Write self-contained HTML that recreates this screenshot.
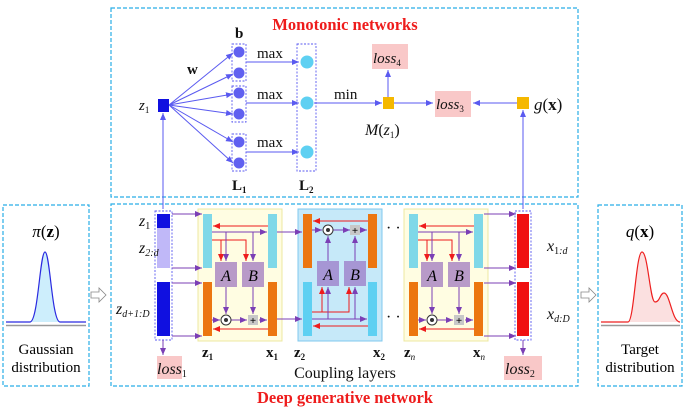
<!DOCTYPE html>
<html><head><meta charset="utf-8"><style>
html,body{margin:0;padding:0;background:#fff;}
svg{display:block;font-family:"Liberation Serif",serif;}
</style></head><body>
<svg width="685" height="408" viewBox="0 0 685 408" xmlns="http://www.w3.org/2000/svg">
<defs>
<marker id="ap" markerWidth="8" markerHeight="8" refX="7" refY="3" orient="auto" markerUnits="userSpaceOnUse"><path d="M0,0 L7,3 L0,6 z" fill="#7b3fb5"/></marker>
<marker id="ar" markerWidth="8" markerHeight="8" refX="7" refY="3" orient="auto" markerUnits="userSpaceOnUse"><path d="M0,0 L7,3 L0,6 z" fill="#ee1c1c"/></marker>
<marker id="ab" markerWidth="8" markerHeight="8" refX="7" refY="3" orient="auto" markerUnits="userSpaceOnUse"><path d="M0,0 L7,3 L0,6 z" fill="#5a5af0"/></marker>
</defs>
<g fill="none" stroke="#29aee6" stroke-width="1.2" stroke-dasharray="4,2">
<rect x="111" y="8" width="467" height="189"/>
<rect x="111" y="204" width="467" height="182"/>
<rect x="3" y="205" width="86" height="181"/>
<rect x="598" y="205" width="84" height="181"/>
</g>
<text x="345" y="30" fill="#ee1c1c" font-weight="bold" font-size="16.5" text-anchor="middle">Monotonic networks</text>
<text x="345" y="403" fill="#ee1c1c" font-weight="bold" font-size="16.5" text-anchor="middle">Deep generative network</text>

<!-- monotonic network -->
<g stroke="#5a5af0" stroke-width="1" marker-end="url(#ab)">
<line x1="169" y1="105" x2="233" y2="53"/><line x1="169" y1="105" x2="233" y2="74"/>
<line x1="169" y1="105" x2="233" y2="94"/><line x1="169" y1="105" x2="233" y2="114"/>
<line x1="169" y1="105" x2="233" y2="142"/><line x1="169" y1="105" x2="233" y2="163"/>
<line x1="246" y1="62" x2="299" y2="62"/><line x1="246" y1="103" x2="299" y2="103"/><line x1="246" y1="152" x2="299" y2="152"/>
<line x1="314" y1="103" x2="382" y2="103"/>
<line x1="388" y1="97" x2="388" y2="70"/>
<line x1="394" y1="103" x2="433" y2="103"/>
<line x1="517" y1="103" x2="473" y2="103"/>
<line x1="163" y1="209" x2="163" y2="113"/>
<line x1="523" y1="209" x2="523" y2="110"/>
</g>
<g stroke="#5a5af0" stroke-dasharray="2,1.5" fill="none" stroke-width="0.9">
<rect x="232" y="44" width="14" height="37"/><rect x="232" y="86" width="14" height="36"/><rect x="232" y="134" width="14" height="37"/>
<rect x="297" y="44" width="19" height="127"/>
</g>
<g fill="#6060f0">
<circle cx="239" cy="52" r="5.5"/><circle cx="239" cy="73" r="5.5"/><circle cx="239" cy="93" r="5.5"/><circle cx="239" cy="114" r="5.5"/><circle cx="239" cy="142" r="5.5"/><circle cx="239" cy="163" r="5.5"/>
</g>
<g fill="#5ed0f2"><circle cx="307" cy="62" r="6.5"/><circle cx="307" cy="103" r="6.5"/><circle cx="307" cy="152" r="6.5"/></g>
<rect x="158" y="99" width="11" height="13" fill="#1010e0"/>
<rect x="383" y="97" width="11" height="12" fill="#f5b800"/>
<rect x="517" y="97" width="12" height="12" fill="#f5b800"/>
<rect x="372" y="44" width="36" height="25" fill="#f9c8c8"/>
<rect x="435" y="91" width="36" height="26" fill="#f9c8c8"/>
<g font-size="15" fill="#111">
<text x="139" y="110" font-style="italic">z<tspan font-size="9" dy="3" font-style="normal">1</tspan></text>
<text x="235" y="38" font-weight="bold">b</text>
<text x="187" y="74" font-weight="bold">w</text>
<text x="257" y="58">max</text><text x="257" y="99">max</text><text x="257" y="147">max</text>
<text x="334" y="99">min</text>
<text x="373" y="63" font-style="italic">loss<tspan font-size="9" dy="3" font-style="normal">4</tspan></text>
<text x="436" y="109" font-style="italic">loss<tspan font-size="9" dy="3" font-style="normal">3</tspan></text>
<text x="365" y="135" font-size="16"><tspan font-style="italic">M</tspan>(<tspan font-style="italic">z</tspan><tspan font-size="9" dy="3">1</tspan><tspan dy="-3">)</tspan></text>
<text x="534" y="110" font-size="17"><tspan font-style="italic">g</tspan>(<tspan font-weight="bold">x</tspan>)</text>
<text x="232" y="190" font-weight="bold">L<tspan font-size="9" dy="3">1</tspan></text>
<text x="299" y="190" font-weight="bold">L<tspan font-size="9" dy="3">2</tspan></text>
</g>

<!-- left panel -->
<text x="46" y="237" font-size="17" text-anchor="middle"><tspan font-style="italic">π</tspan>(<tspan font-weight="bold">z</tspan>)</text>
<path d="M6,322 L30,322 C38,322 40,252 45,252 C50,252 52,322 60,322 L86,322 Z" fill="#cdeefc"/>
<path d="M6,322 L30,322 C38,322 40,252 45,252 C50,252 52,322 60,322 L86,322" fill="none" stroke="#2a2ae0" stroke-width="1.2"/>
<line x1="6" y1="325.5" x2="86" y2="325.5" stroke="#999" stroke-width="1.5"/>
<text x="46" y="354" font-size="15" text-anchor="middle">Gaussian</text>
<text x="46" y="372" font-size="15" text-anchor="middle">distribution</text>
<path d="M91,292 L99,292 L99,288 L106,295 L99,302 L99,298 L91,298 Z" fill="#fff" stroke="#888" stroke-width="0.8"/>
<!-- right panel -->
<text x="640" y="237" font-size="17" text-anchor="middle"><tspan font-style="italic">q</tspan>(<tspan font-weight="bold">x</tspan>)</text>
<path d="M601,322 L628,322 C634,322 636,252 642,252 C648,252 650,302 655,302 C660,302 660,293 664,293 C670,293 672,322 680,322 Z" fill="#fbe0e0"/>
<path d="M601,322 L628,322 C634,322 636,252 642,252 C648,252 650,302 655,302 C660,302 660,293 664,293 C670,293 672,322 680,322" fill="none" stroke="#ee2020" stroke-width="1.2"/>
<line x1="601" y1="325.5" x2="680" y2="325.5" stroke="#999" stroke-width="1.5"/>
<text x="640" y="354" font-size="15" text-anchor="middle">Target</text>
<text x="640" y="372" font-size="15" text-anchor="middle">distribution</text>
<path d="M581,292 L589,292 L589,288 L596,295 L589,302 L589,298 L581,298 Z" fill="#fff" stroke="#888" stroke-width="0.8"/>

<!-- input stack -->
<rect x="157" y="214" width="13" height="14" fill="#1010e0"/>
<rect x="157" y="228" width="13" height="40" fill="#c0b8f8"/>
<rect x="157" y="282" width="13" height="54" fill="#1010e0"/>
<rect x="155" y="211" width="17" height="129" fill="none" stroke="#5a5af0" stroke-dasharray="2,1.5" stroke-width="0.9"/>
<rect x="517" y="214" width="12" height="54" fill="#f01010"/>
<rect x="517" y="282" width="12" height="54" fill="#f01010"/>
<rect x="515" y="211" width="16" height="129" fill="none" stroke="#5a5af0" stroke-dasharray="2,1.5" stroke-width="0.9"/>
<rect x="157" y="356" width="25" height="23" fill="#f9c8c8"/>
<rect x="504" y="356" width="38" height="24" fill="#f9c8c8"/>
<g font-size="16" fill="#111">
<text x="139" y="226" font-style="italic">z<tspan font-size="10" dy="3" font-style="normal">1</tspan></text>
<text x="139" y="253" font-style="italic">z<tspan font-size="10" dy="3">2:d</tspan></text>
<text x="116" y="314" font-style="italic">z<tspan font-size="10" dy="3">d+1:D</tspan></text>
<text x="547" y="251" font-style="italic">x<tspan font-size="10" dy="3"><tspan font-style="normal">1</tspan>:d</tspan></text>
<text x="547" y="319" font-style="italic">x<tspan font-size="10" dy="3">d:D</tspan></text>
<text x="157" y="374" font-style="italic">loss<tspan font-size="10" dy="3" font-style="normal">1</tspan></text>
<text x="505" y="374" font-style="italic">loss<tspan font-size="10" dy="3" font-style="normal">2</tspan></text>
<text x="345" y="378" text-anchor="middle" font-size="16">Coupling layers</text>
<g font-weight="bold" font-size="15">
<text x="202" y="357">z<tspan font-size="9" dy="3">1</tspan></text>
<text x="266" y="357">x<tspan font-size="9" dy="3">1</tspan></text>
<text x="294" y="357">z<tspan font-size="9" dy="3">2</tspan></text>
<text x="373" y="357">x<tspan font-size="9" dy="3">2</tspan></text>
<text x="404" y="357">z<tspan font-size="9" dy="3" font-style="italic" font-weight="normal">n</tspan></text>
<text x="473" y="357">x<tspan font-size="9" dy="3" font-style="italic" font-weight="normal">n</tspan></text>
</g>
<text x="386" y="233">· · ·</text><text x="386" y="322">· · ·</text>
</g>
<line x1="163" y1="340" x2="163" y2="355" stroke="#7b3fb5" marker-end="url(#ap)"/>
<line x1="523" y1="340" x2="523" y2="355" stroke="#7b3fb5" marker-end="url(#ap)"/>

<!-- layer 1 and n -->
<g id="L1">
<rect x="198" y="209" width="84" height="132" fill="#fffde2" stroke="#ece8a0"/>
<rect x="203" y="214" width="9" height="54" fill="#7fd8e8"/>
<rect x="268" y="214" width="9" height="54" fill="#7fd8e8"/>
<rect x="203" y="282" width="9" height="54" fill="#ec7610"/>
<rect x="268" y="282" width="9" height="54" fill="#ec7610"/>
<rect x="215" y="262" width="22" height="25" fill="#b89ac8"/>
<rect x="242" y="262" width="22" height="25" fill="#b89ac8"/>
<text x="226" y="281" font-size="16" font-style="italic" text-anchor="middle">A</text>
<text x="253" y="281" font-size="16" font-style="italic" text-anchor="middle">B</text>
<g stroke="#ee1c1c" fill="none">
<line x1="268" y1="226" x2="213" y2="226" marker-end="url(#ar)"/>
<polyline points="212,240 221,240 221,261" marker-end="url(#ar)"/>
<polyline points="221,240 246,240 246,261" marker-end="url(#ar)"/>
<line x1="268" y1="329" x2="213" y2="329" marker-end="url(#ar)"/>
</g>
<g stroke="#7b3fb5" fill="none">
<line x1="212" y1="232" x2="267" y2="232" marker-end="url(#ap)"/>
<line x1="226" y1="232" x2="226" y2="261" marker-end="url(#ap)"/>
<line x1="253" y1="232" x2="253" y2="261" marker-end="url(#ap)"/>
<line x1="226" y1="287" x2="226" y2="314" marker-end="url(#ap)"/>
<line x1="253" y1="287" x2="253" y2="314" marker-end="url(#ap)"/>
<line x1="212" y1="320" x2="220" y2="320" marker-end="url(#ap)"/>
<line x1="231" y1="320" x2="247" y2="320" marker-end="url(#ap)"/>
<line x1="259" y1="320" x2="267" y2="320" marker-end="url(#ap)"/>
</g>
<circle cx="226" cy="320" r="5" fill="#fff" stroke="#333"/><circle cx="226" cy="320" r="2" fill="#333"/>
<rect x="248" y="315" width="10" height="10" fill="#c8c8c8"/>
<text x="253" y="324" font-size="11" text-anchor="middle" font-weight="bold">+</text>
</g>
<use href="#L1" x="206" y="0"/>

<!-- layer 2 -->
<rect x="298" y="209" width="84" height="132" fill="#c6e9f9" stroke="#80c8ee"/>
<rect x="303" y="214" width="9" height="54" fill="#ec7610"/>
<rect x="368" y="214" width="9" height="54" fill="#ec7610"/>
<rect x="303" y="282" width="9" height="54" fill="#5ed0f2"/>
<rect x="368" y="282" width="9" height="54" fill="#5ed0f2"/>
<rect x="317" y="261" width="22" height="25" fill="#a696d4"/>
<rect x="344" y="261" width="22" height="25" fill="#a696d4"/>
<text x="328" y="280" font-size="16" font-style="italic" text-anchor="middle">A</text>
<text x="355" y="280" font-size="16" font-style="italic" text-anchor="middle">B</text>
<g stroke="#ee1c1c" fill="none">
<line x1="368" y1="221" x2="313" y2="221" marker-end="url(#ar)"/>
<polyline points="312,312 349,312 349,287" marker-end="url(#ar)"/>
<line x1="322" y1="312" x2="322" y2="287" marker-end="url(#ar)"/>
<line x1="368" y1="326" x2="313" y2="326" marker-end="url(#ar)"/>
</g>
<g stroke="#7b3fb5" fill="none">
<line x1="312" y1="230" x2="322" y2="230" marker-end="url(#ap)"/>
<line x1="333" y1="230" x2="350" y2="230" marker-end="url(#ap)"/>
<line x1="360" y1="230" x2="367" y2="230" marker-end="url(#ap)"/>
<line x1="328" y1="261" x2="328" y2="236" marker-end="url(#ap)"/>
<line x1="355" y1="261" x2="355" y2="236" marker-end="url(#ap)"/>
<line x1="312" y1="319" x2="367" y2="319" marker-end="url(#ap)"/>
<line x1="328" y1="319" x2="328" y2="287" marker-end="url(#ap)"/>
<line x1="355" y1="319" x2="355" y2="287" marker-end="url(#ap)"/>
</g>
<circle cx="328" cy="230" r="5" fill="#fff" stroke="#333"/><circle cx="328" cy="230" r="2" fill="#333"/>
<rect x="350" y="225" width="10" height="10" fill="#c8c8c8"/>
<text x="355" y="234" font-size="11" text-anchor="middle" font-weight="bold">+</text>

<!-- inter connections -->
<g stroke="#7b3fb5" fill="none">
<line x1="172" y1="214" x2="202" y2="214" marker-end="url(#ap)"/>
<line x1="172" y1="268" x2="202" y2="268" marker-end="url(#ap)"/>
<line x1="172" y1="283" x2="202" y2="283" marker-end="url(#ap)"/>
<line x1="172" y1="336" x2="202" y2="336" marker-end="url(#ap)"/>
<line x1="277" y1="232" x2="302" y2="232" marker-end="url(#ap)"/>
<line x1="277" y1="319" x2="302" y2="319" marker-end="url(#ap)"/>
<line x1="484" y1="214" x2="516" y2="214" marker-end="url(#ap)"/>
<line x1="484" y1="268" x2="516" y2="268" marker-end="url(#ap)"/>
<line x1="484" y1="283" x2="516" y2="283" marker-end="url(#ap)"/>
<line x1="484" y1="336" x2="516" y2="336" marker-end="url(#ap)"/>
</g>
</svg>
</body></html>
